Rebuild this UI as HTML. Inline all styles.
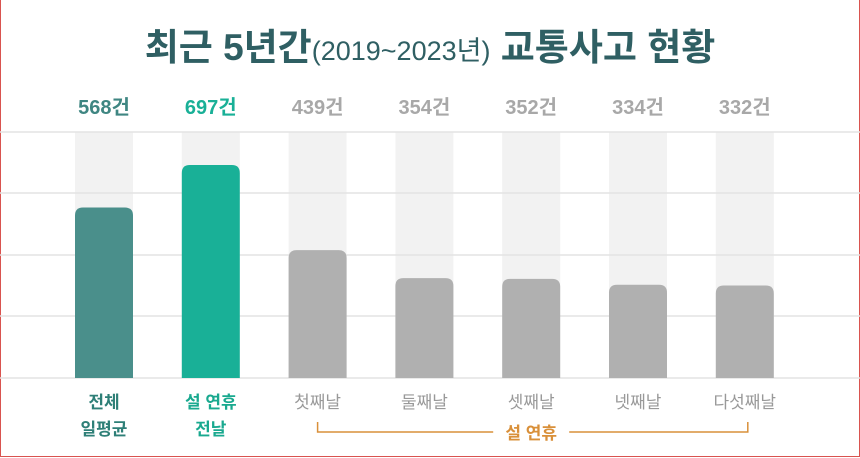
<!DOCTYPE html>
<html><head><meta charset="utf-8">
<style>
html,body{margin:0;padding:0;background:#fff;}
body{width:860px;height:458px;overflow:hidden;font-family:"Liberation Sans","Noto Sans CJK KR",sans-serif;}
#frame{position:absolute;left:0;top:0;width:858px;height:456px;border:1px solid #d9534f;border-top:none;}
</style></head>
<body>
<div id="frame"></div>
<svg id="chart" width="860" height="458" style="position:absolute;left:0;top:0">
<text x="430" y="60" text-anchor="middle" font-size="37" font-weight="bold" fill="#2f5f63" font-family="Liberation Sans, Noto Sans CJK KR, sans-serif">최근 5년간<tspan font-size="27" font-weight="normal">(2019~2023년)</tspan> 교통사고 현황</text>
</svg>
<script>
const categories=["전체|일평균","설 연휴|전날","첫째날","둘째날","셋째날","넷째날","다섯째날"];
const values=[568,697,439,354,352,334,332];
const valueLabels=["568건","697건","439건","354건","352건","334건","332건"];
const colors=["#4a8f8b","#19b097","#b0b0b0","#b0b0b0","#b0b0b0","#b0b0b0","#b0b0b0"];
const labelColors=["#3f8682","#19b097","#a8a8a8","#a8a8a8","#a8a8a8","#a8a8a8","#a8a8a8"];
const catLabelColors=["#2e7f77","#19a98f","#999","#999","#999","#999","#999"];
const NS="http://www.w3.org/2000/svg";
const svg=document.getElementById('chart');
const base=378, plotTop=132;
function y(v){return base-(0.33*v-17);}
function xc(i){return 104+i*106.8;}
const bw=58;
function mk(t,a){const e=document.createElementNS(NS,t);for(const k in a)e.setAttribute(k,a[k]);svg.appendChild(e);return e;}
categories.forEach((c,i)=>{
  const bg=mk('rect',{x:xc(i)-bw/2,y:plotTop,width:bw,height:base-plotTop,fill:'#f2f2f2'});
  
  
});
[132,193,255,316,378].forEach(gy=>{
  const l=mk('line',{x1:0,x2:860,y1:gy,y2:gy,stroke:'#e3e3e3','stroke-width':1.5});
  
  
});
values.forEach((v,i)=>{
  const ty=y(v),r=8;
  const x0=xc(i)-bw/2;
  const p=mk('path',{d:`M${x0},${base}V${ty+r}Q${x0},${ty} ${x0+r},${ty}H${x0+bw-r}Q${x0+bw},${ty} ${x0+bw},${ty+r}V${base}Z`,fill:colors[i]});
  
  
  const t=mk('text',{x:xc(i),y:114,'text-anchor':'middle','font-size':20,'font-weight':'bold',fill:labelColors[i]});
  t.textContent=valueLabels[i];
  
  
  const parts=categories[i].split('|');
  parts.forEach((s,j)=>{
    const ct=mk('text',{x:xc(i),y:408+j*27,'text-anchor':'middle','font-size':17,'font-weight':i<2?'bold':'normal',fill:catLabelColors[i]});
    ct.textContent=s;
    
    
  });
});
const br=mk('path',{d:`M${xc(2)},422V432H${xc(4)-38}M${xc(4)+38},432H${xc(6)+3}V422`,stroke:'#d9903a','stroke-width':1.5,fill:'none'});


const bt=mk('text',{x:xc(4),y:439,'text-anchor':'middle','font-size':17,'font-weight':'bold',fill:'#d9903a'});
bt.textContent='설 연휴';


</script>
</body></html>
